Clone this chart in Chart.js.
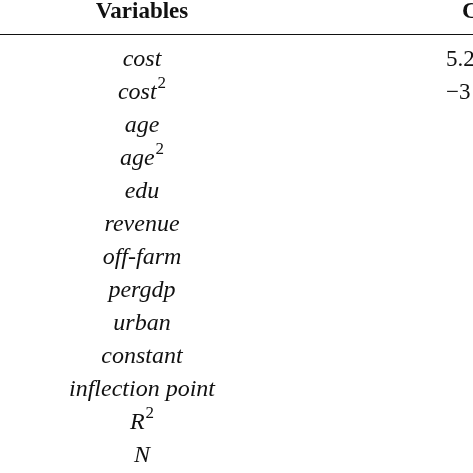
<!DOCTYPE html>
<html><head><meta charset="utf-8">
<script src="https://cdn.jsdelivr.net/npm/chart.js@4"></script>
<style>html,body{margin:0;background:#fff}#wrap{width:473px;height:473px}</style>
</head><body><div id="wrap"><canvas id="c"></canvas></div>
<script>
const variables = ['cost', 'cost', 'age', 'age', 'edu', 'revenue', 'off-farm', 'pergdp', 'urban', 'constant', 'inflection point', 'R', 'N'];
const superscripts = ['', '2', '', '2', '', '', '', '', '', '', '', '2', ''];
const coefText = ['5.2', '\u22123', '', '', '', '', '', '', '', '', '', '', ''];
const headers = ['Variables', 'C'];

const tablePlugin = {
    id: 'table',
    afterDraw(chart) {
        const ctx = chart.ctx;
        const y = chart.scales.y;
        const w = chart.width;
        ctx.save();
        ctx.fillStyle = '#111';
        ctx.textBaseline = 'middle';
        ctx.font = 'bold 23px "Liberation Serif", serif';
        ctx.textAlign = 'center';
        ctx.fillText(headers[0], 142, 12);
        ctx.textAlign = 'left';
        ctx.fillText(headers[1], 462, 12);
        ctx.strokeStyle = '#111';
        ctx.lineWidth = 1;
        ctx.beginPath(); ctx.moveTo(0, 34.5); ctx.lineTo(w, 34.5); ctx.stroke();
        variables.forEach((name, i) => {
            const py = y.getPixelForValue(i);
            ctx.font = 'italic 24px "Liberation Serif", serif';
            const bw = ctx.measureText(name).width;
            ctx.font = '17px "Liberation Serif", serif';
            const sw = superscripts[i] ? ctx.measureText(superscripts[i]).width + 1 : 0;
            const x0 = 142 - (bw + sw) / 2;
            ctx.textAlign = 'left';
            ctx.font = 'italic 24px "Liberation Serif", serif';
            ctx.fillText(name, x0, py);
            if (superscripts[i]) {
                ctx.font = '17px "Liberation Serif", serif';
                ctx.fillText(superscripts[i], x0 + bw + 1, py - 9);
            }
            if (coefText[i]) {
                ctx.font = '23px "Liberation Serif", serif';
                ctx.fillText(coefText[i], 446, py);
            }
        });
        ctx.restore();
    }
};

new Chart(document.getElementById('c'), {
    type: 'scatter',
    data: { datasets: [{ data: [], pointRadius: 0 }] },
    options: {
        responsive: true, maintainAspectRatio: false, animation: false,
        layout: { padding: 0 },
        plugins: { legend: { display: false }, tooltip: { enabled: false } },
        scales: {
            x: { display: false, min: 0, max: 1 },
            y: { display: false, reverse: true, min: -1.818, max: 12.515 }
        }
    },
    plugins: [tablePlugin]
});
</script></body></html>
